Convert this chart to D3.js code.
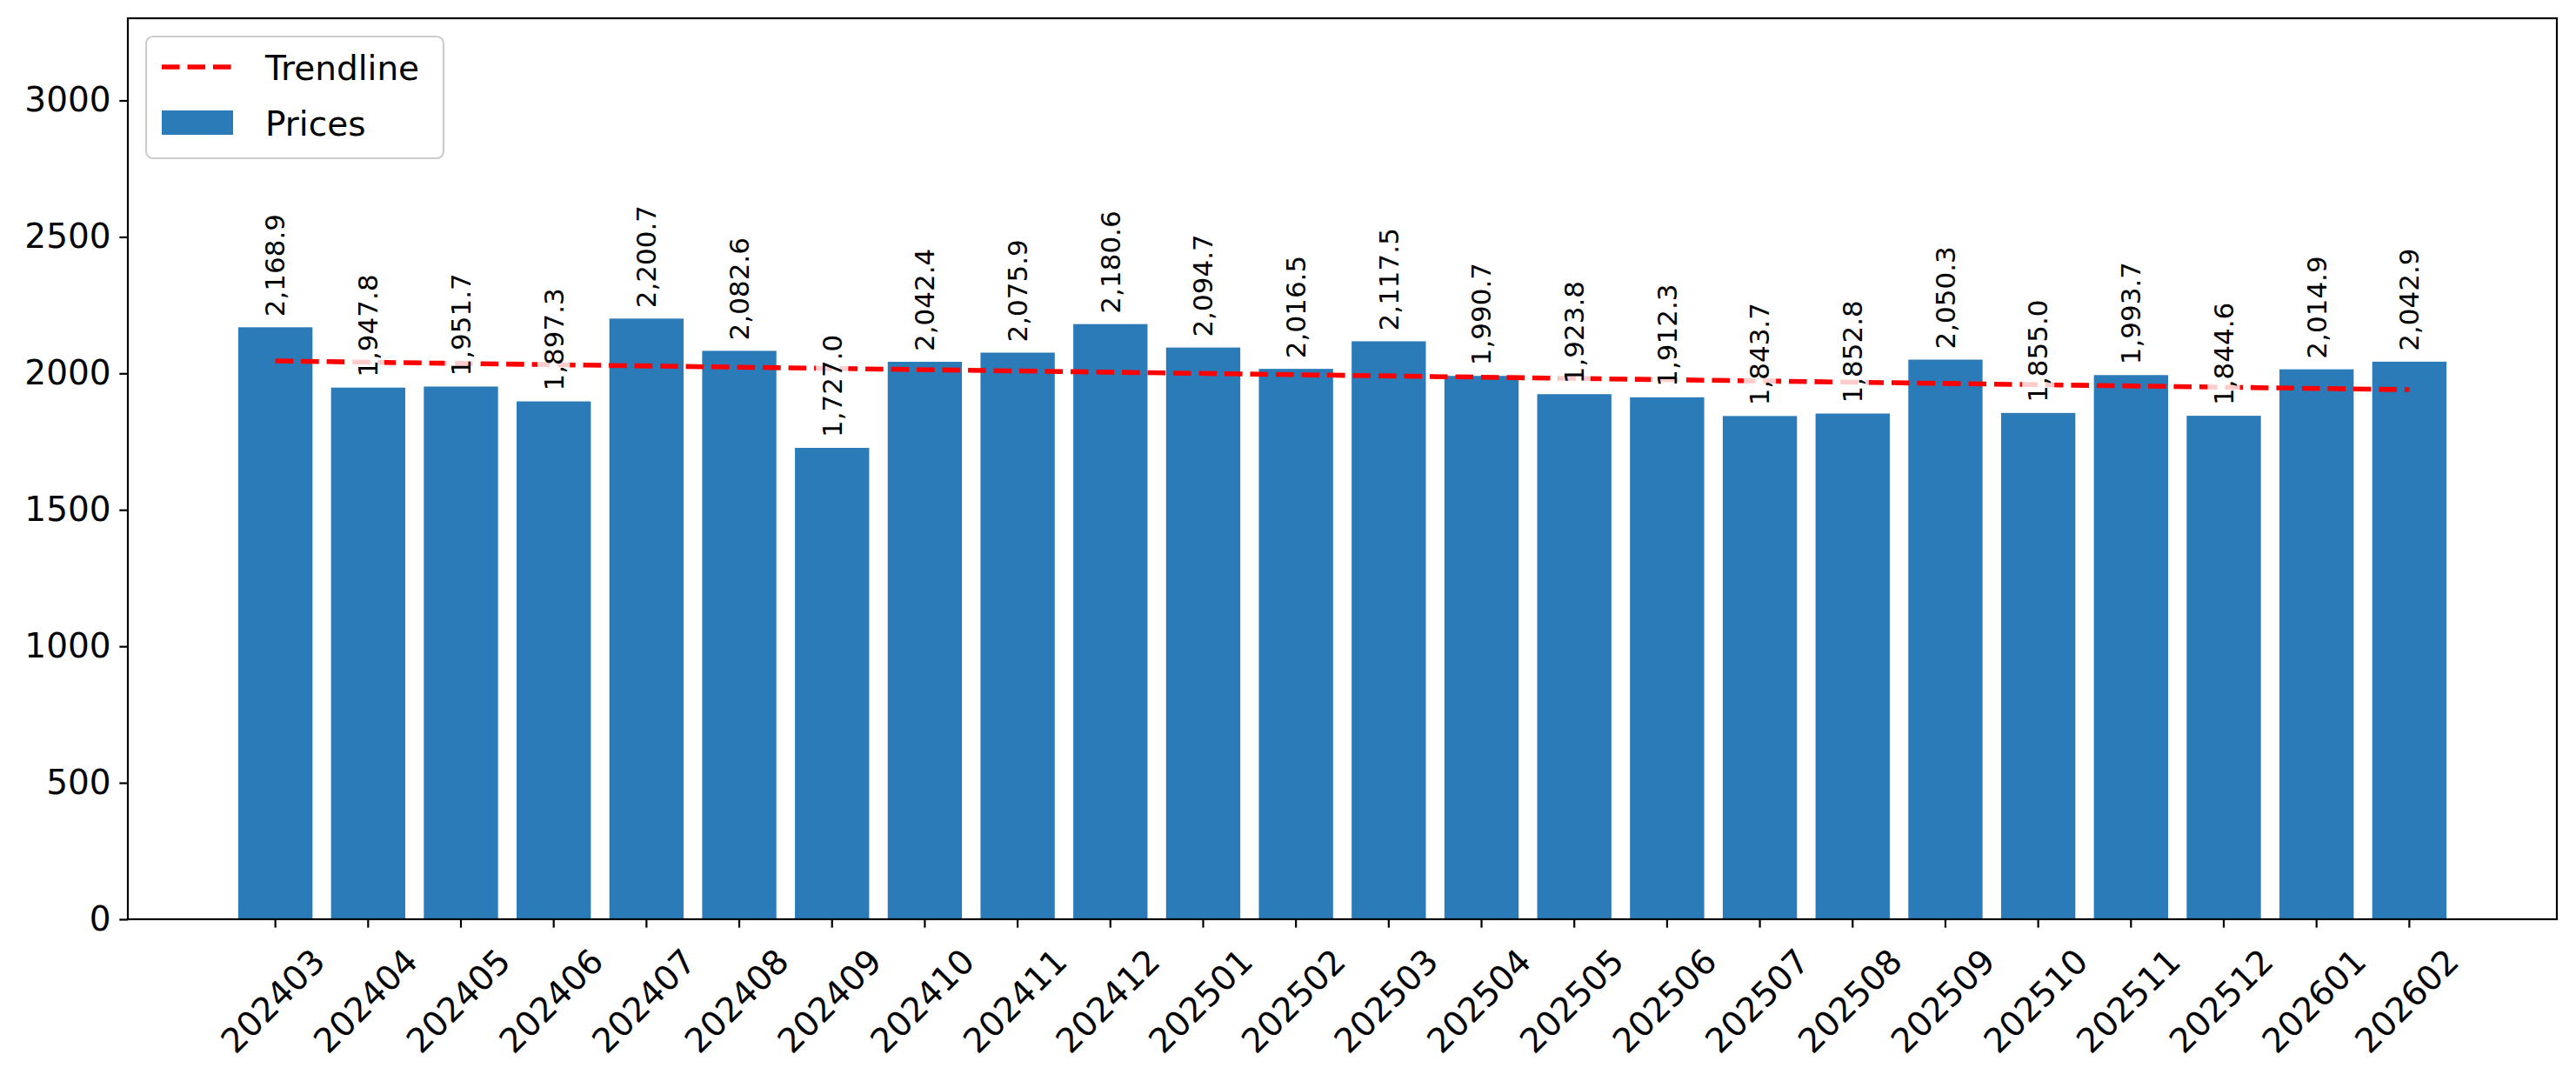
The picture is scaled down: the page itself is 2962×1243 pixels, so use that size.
<!DOCTYPE html>
<html>
<head>
<meta charset="utf-8">
<script src="https://cdn.jsdelivr.net/npm/d3@7"></script>
<style>
  body { margin: 0; background: #fff; }
  text { font-family: "DejaVu Sans", sans-serif; }
</style>
</head>
<body>
<div id="chart"></div>
<script>
// chart data
const months = ["202403", "202404", "202405", "202406", "202407", "202408", "202409", "202410",
    "202411", "202412", "202501", "202502", "202503", "202504", "202505", "202506",
    "202507", "202508", "202509", "202510", "202511", "202512", "202601", "202602"];
const prices = [2168.9, 1947.8, 1951.7, 1897.3, 2200.7, 2082.6, 1727.0, 2042.4,
    2075.9, 2180.6, 2094.7, 2016.5, 2117.5, 1990.7, 1923.8, 1912.3,
    1843.7, 1852.8, 2050.3, 1855.0, 1993.7, 1844.6, 2014.9, 2042.9];
// trendline end points (first and last month)
const trendMonths = ["202403", "202602"];
const trendValues = [2045.5, 1940.2];
const yTicks = [0, 500, 1000, 1500, 2000, 2500, 3000];
const legendLabels = ["Trendline", "Prices"];

function drawChart() {
    const width = 2962,
        height = 1243;
    const plot = { left: 147, right: 2940, top: 21, bottom: 1057 };
    const barColor = "#2b7bb9";
    const fontSize = 39;
    const labelSize = 31;

    const svg = d3.select("#chart")
        .append("svg")
        .attr("width", width)
        .attr("height", height);

    svg.append("rect")
        .attr("width", width)
        .attr("height", height)
        .attr("fill", "#fff");

    // scales
    const x = d3.scaleBand()
        .domain(months)
        .range([plot.left, plot.right])
        .paddingInner(0.2)
        .paddingOuter(1.19);

    const y = d3.scaleLinear()
        .domain([0, d3.max(prices) * 1.5])
        .range([plot.bottom, plot.top]);

    // bars
    svg.append("g")
        .selectAll("rect")
        .data(prices)
        .join("rect")
        .attr("x", (d, i) => x(months[i]))
        .attr("y", d => y(d))
        .attr("width", x.bandwidth())
        .attr("height", d => y(0) - y(d))
        .attr("fill", barColor);

    // trendline
    const line = d3.line()
        .x((d, i) => x(trendMonths[i]) + x.bandwidth() / 2)
        .y(d => y(d));

    svg.append("path")
        .datum(trendValues)
        .attr("d", line)
        .attr("fill", "none")
        .attr("stroke", "#ff0000")
        .attr("stroke-width", 5.56)
        .attr("stroke-dasharray", "20.6 8.9");

    // value labels with semi-transparent white box
    const fmt = d3.format(",.1f");
    const labels = svg.append("g")
        .selectAll("g")
        .data(prices)
        .join("g")
        .attr("transform", (d, i) =>
            `translate(${x(months[i]) + x.bandwidth() / 2}, ${y(d) - 12}) rotate(-90)`);

    labels.append("rect")
        .attr("fill", "#fff")
        .attr("fill-opacity", 0.8);

    labels.append("text")
        .attr("font-size", labelSize)
        .attr("dy", "0.35em")
        .attr("fill", "#000")
        .text(d => fmt(d))
        .each(function () {
            const len = this.getComputedTextLength();
            d3.select(this.parentNode).select("rect")
                .attr("x", -2)
                .attr("y", -labelSize * 0.6)
                .attr("width", len + 4)
                .attr("height", labelSize * 1.2);
        });

    // y axis
    const yAxis = d3.axisLeft(y)
        .tickValues(yTicks)
        .tickFormat(d3.format("d"))
        .tickSize(9.7)
        .tickPadding(9.7);

    svg.append("g")
        .attr("transform", `translate(${plot.left}, 0)`)
        .call(yAxis)
        .call(g => g.select(".domain").remove())
        .call(g => g.selectAll("line").attr("stroke", "#000").attr("stroke-width", 2.2))
        .call(g => g.selectAll("text")
            .attr("font-size", fontSize)
            .attr("font-family", "DejaVu Sans")
            .attr("fill", "#000"));

    // x axis
    const xAxis = d3.axisBottom(x)
        .tickSize(9.7)
        .tickPadding(9.7);

    svg.append("g")
        .attr("transform", `translate(0, ${plot.bottom})`)
        .call(xAxis)
        .call(g => g.select(".domain").remove())
        .call(g => g.selectAll("line").attr("stroke", "#000").attr("stroke-width", 2.2))
        .call(g => g.selectAll("text")
            .attr("font-size", fontSize)
            .attr("font-family", "DejaVu Sans")
            .attr("fill", "#000")
            .attr("text-anchor", "middle")
            .attr("y", 0)
            .attr("dy", "0.35em")
            .attr("transform", "translate(-3, 94) rotate(-45)"));

    // frame
    svg.append("rect")
        .attr("x", plot.left)
        .attr("y", plot.top)
        .attr("width", plot.right - plot.left)
        .attr("height", plot.bottom - plot.top)
        .attr("fill", "none")
        .attr("stroke", "#000")
        .attr("stroke-width", 2.2);

    // legend
    const legend = svg.append("g");
    legend.append("rect")
        .attr("x", 168)
        .attr("y", 42)
        .attr("width", 342)
        .attr("height", 140)
        .attr("rx", 8)
        .attr("fill", "#fff")
        .attr("fill-opacity", 0.8)
        .attr("stroke", "#cccccc")
        .attr("stroke-width", 2.2);

    legend.append("line")
        .attr("x1", 186)
        .attr("x2", 268)
        .attr("y1", 77)
        .attr("y2", 77)
        .attr("stroke", "#ff0000")
        .attr("stroke-width", 5.56)
        .attr("stroke-dasharray", "20.6 8.9");

    legend.append("rect")
        .attr("x", 186)
        .attr("y", 127)
        .attr("width", 82)
        .attr("height", 28)
        .attr("fill", barColor);

    legend.selectAll("text.lg")
        .data(legendLabels)
        .join("text")
        .attr("class", "lg")
        .attr("x", 305)
        .attr("y", (d, i) => i === 0 ? 92 : 156)
        .attr("font-size", fontSize)
        .attr("fill", "#000")
        .text(d => d);
}

document.addEventListener("DOMContentLoaded", drawChart);
</script>
</body>
</html>
